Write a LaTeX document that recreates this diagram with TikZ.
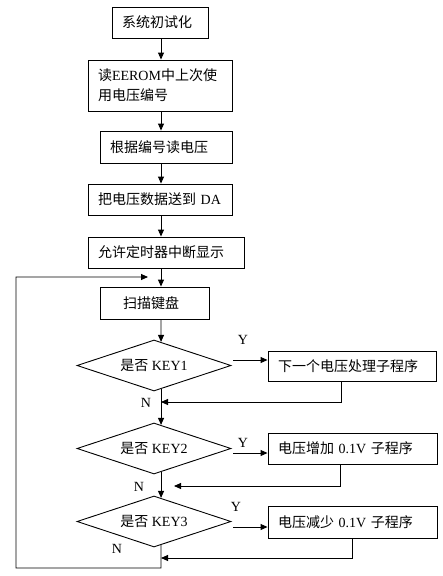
\documentclass[tikz,border=0pt]{standalone}
\usepackage{fontspec}
\setmainfont{Liberation Serif}
\newfontfamily\cjk{Noto Sans CJK SC}
\usetikzlibrary{shapes.geometric,arrows.meta,calc}
\newcommand{\fsz}{\fontsize{14pt}{20pt}\selectfont}
\newcommand{\zhs}[1]{{\cjk #1}}
\begin{document}
\begin{tikzpicture}[x=1pt,y=-1pt,line width=0.9pt,
  >={Triangle[length=7pt,width=6pt]},
  box/.style={draw,rectangle,inner xsep=10pt,inner ysep=0pt,align=left,font=\fsz},
  dec/.style={draw,diamond,aspect=3,minimum width=154pt,minimum height=51pt,inner sep=0pt,font=\fsz},
  lbl/.style={inner sep=0pt,font=\fsz}]
\useasboundingbox[fill=white] (0,0) rectangle (443,576);
% boxes
\node[box,text width=76pt,minimum height=31pt] (b1) at (160,22.5) {\zhs{系统初试化}};
\node[box,text width=124pt,minimum height=51pt] (b2) at (160,85.5) {\zhs{读}EEROM\zhs{中上次使}\\\zhs{用电压编号}};
\node[box,text width=112pt,minimum height=32pt] (b3) at (166,147) {\zhs{根据编号读电压}};
\node[box,text width=124pt,minimum height=31pt] (b4) at (160,199.5) {\zhs{把电压数据送到} DA};
\node[box,text width=136pt,minimum height=31pt] (b5) at (166,252.5) {\zhs{允许定时器中断显示}};
\node[box,inner xsep=23pt,text width=63pt,minimum height=32pt] (b6) at (154.5,303) {\zhs{扫描键盘}};
\node[dec] (d1) at (154,365.5) {\zhs{是否} KEY1};
\node[dec] (d2) at (154,448.5) {\zhs{是否} KEY2};
\node[dec] (d3) at (154,521.5) {\zhs{是否} KEY3};
\node[box,text width=148pt,minimum height=30pt] (b7) at (352,366) {\zhs{下一个电压处理子程序}};
\node[box,text width=149pt,minimum height=31pt] (b8) at (352.5,448.5) {\zhs{电压增加} 0.1V \zhs{子程序}};
\node[box,text width=149pt,minimum height=32pt] (b9) at (352.5,522) {\zhs{电压减少} 0.1V \zhs{子程序}};
% labels
\node[lbl] (ly1) at (243,340) {Y};
\node[lbl] (ly2) at (243,443) {Y};
\node[lbl] (ly3) at (236,507) {Y};
\node[lbl] (ln1) at (146,403) {N};
\node[lbl] (ln2) at (139,487) {N};
\node[lbl] (ln3) at (117,549) {N};
% main line
\coordinate (mx) at (161,0);
\draw[->] (b1.south -| mx) -- (b2.north -| mx);
\draw[->] (b2.south -| mx) -- (b3.north -| mx);
\draw[->] (b3.south -| mx) -- (b4.north -| mx);
\draw[->] (b4.south -| mx) -- (b5.north -| mx);
\draw[->] (b5.south -| mx) -- (b6.north -| mx);
\coordinate (d1t) at ($(d1.north)!0.0909!(d1.east)$);
\coordinate (d1b) at ($(d1.south)!0.0909!(d1.east)$);
\coordinate (d2t) at ($(d2.north)!0.0909!(d2.east)$);
\coordinate (d2b) at ($(d2.south)!0.0909!(d2.east)$);
\coordinate (d3t) at ($(d3.north)!0.0909!(d3.east)$);
\coordinate (d3b) at ($(d3.south)!0.0909!(d3.east)$);
\draw[->] (b6.south -| mx) -- (d1t);
\draw[->] (d1b) -- (d2t);
\draw[->] (d2b) -- (d3t);
% yes branches
\coordinate (y1) at ([shift={(2pt,5.5pt)}]d1.east);
\coordinate (y2) at ([shift={(2pt,-4.5pt)}]d2.east);
\coordinate (y3) at ([shift={(2pt,-5.5pt)}]d3.east);
\draw[->] (y1) -- (y1 -| b7.west);
\draw[->] (y2) -- (y2 -| b8.west);
\draw[->] (y3) -- (y3 -| b9.west);
% returns
\coordinate (f1) at (341,402);
\coordinate (f2) at (340,486);
\coordinate (f2e) at (174,486);
\coordinate (f3) at (352,558);
\draw[->] (b7.south -| f1) |- (mx |- f1);
\draw[->] (b8.south -| f2) |- (f2e);
\draw[->] (b9.south -| f3) |- (mx |- f3);
% loop
\coordinate (lb) at (16,568);
\coordinate (lt) at (16,277);
\coordinate (le) at (148,277);
\draw[->] (d3b) -- (mx |- lb) -- (lb) -- (lt) -- (le);
\end{tikzpicture}
\end{document}
